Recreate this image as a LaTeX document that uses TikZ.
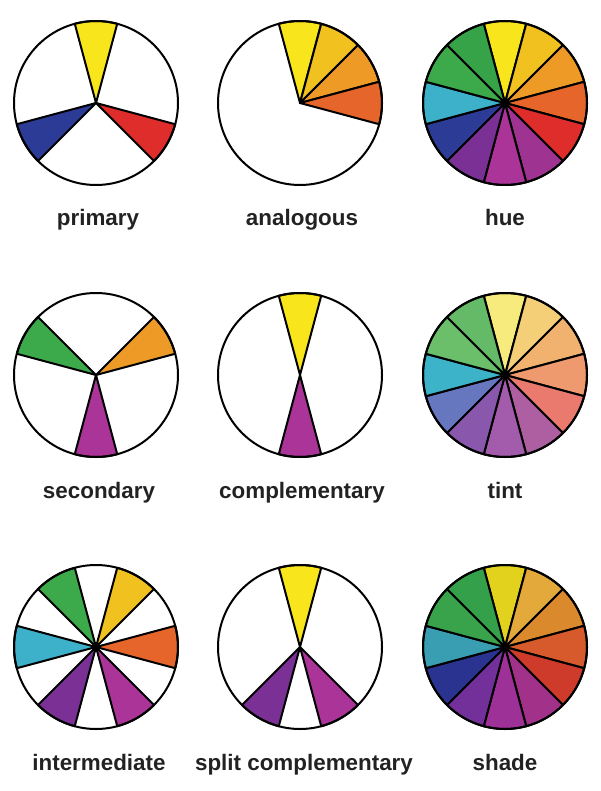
\documentclass[tikz,border=0pt]{standalone}
\usepackage{fontspec}
\setsansfont{Liberation Sans}

% hue
\definecolor{hYellow}{HTML}{F8E51C}
\definecolor{hGold}{HTML}{F1C21F}
\definecolor{hOrange}{HTML}{EE9A27}
\definecolor{hRedOrange}{HTML}{E6652B}
\definecolor{hRed}{HTML}{DE2D2A}
\definecolor{hRedViolet}{HTML}{9F3391}
\definecolor{hViolet}{HTML}{AA3498}
\definecolor{hPurple}{HTML}{7A3095}
\definecolor{hBlue}{HTML}{2C3C96}
\definecolor{hCyan}{HTML}{3DB0CA}
\definecolor{hGreen}{HTML}{3CAA4A}
\definecolor{hGreenTwo}{HTML}{37A349}
% tint
\definecolor{tYellow}{HTML}{F6EB7C}
\definecolor{tGold}{HTML}{F5CF78}
\definecolor{tOrange}{HTML}{F2B26F}
\definecolor{tRedOrange}{HTML}{EE9A6E}
\definecolor{tRed}{HTML}{EA7A6D}
\definecolor{tRedViolet}{HTML}{AE5FA1}
\definecolor{tViolet}{HTML}{A35BAC}
\definecolor{tPurple}{HTML}{8957AC}
\definecolor{tBlue}{HTML}{6677C0}
\definecolor{tCyan}{HTML}{3CB3C9}
\definecolor{tGreen}{HTML}{6BBE6A}
\definecolor{tGreenTwo}{HTML}{64BA66}
% shade
\definecolor{sYellow}{HTML}{E2D21E}
\definecolor{sGold}{HTML}{E3A93A}
\definecolor{sOrange}{HTML}{DA8A2C}
\definecolor{sRedOrange}{HTML}{D65A2B}
\definecolor{sRed}{HTML}{CF3B2B}
\definecolor{sRedViolet}{HTML}{A2318A}
\definecolor{sViolet}{HTML}{9E3197}
\definecolor{sPurple}{HTML}{74309A}
\definecolor{sBlue}{HTML}{2A3390}
\definecolor{sCyan}{HTML}{3A9EB3}
\definecolor{sGreen}{HTML}{38A34A}
\definecolor{sGreenTwo}{HTML}{35A04A}
\definecolor{captiongray}{HTML}{222222}

% wheel: centre, list of angle/colour
\newcommand{\colorwheel}[2]{%
  \foreach \ang/\col in {#2}
    \filldraw[sector,fill=\col] (#1) -- ++(\ang-15:82)
      arc[start angle=\ang-15,end angle=\ang+15,radius=82] -- cycle;
  \draw[rim] (#1) circle[radius=82];
}

\begin{document}
\begin{tikzpicture}[
    x=0.5pt,y=0.5pt,
    font=\sffamily\bfseries\fontsize{11.2}{13}\selectfont,
    line width=1pt,line join=round,
    sector/.style={draw=black},
    rim/.style={draw=black},
    wheelname/.style={anchor=base,text=captiongray,inner sep=0pt}
]
\useasboundingbox (0,0) rectangle (600,-791);

\coordinate (primary) at (96,-103);
\coordinate (analogous) at (300,-103);
\coordinate (hue) at (505,-103);
\coordinate (secondary) at (96,-375);
\coordinate (complementary) at (300,-375);
\coordinate (tint) at (505,-375);
\coordinate (intermediate) at (96,-647);
\coordinate (splitcompl) at (300,-647);
\coordinate (shade) at (505,-647);

\colorwheel{primary}{90/hYellow,-30/hRed,-150/hBlue}
\colorwheel{analogous}{90/hYellow,60/hGold,30/hOrange,0/hRedOrange}
\colorwheel{hue}{90/hYellow,60/hGold,30/hOrange,0/hRedOrange,-30/hRed,
  -60/hRedViolet,-90/hViolet,-120/hPurple,-150/hBlue,180/hCyan,
  150/hGreen,120/hGreenTwo}
\colorwheel{secondary}{30/hOrange,150/hGreen,-90/hViolet}
\colorwheel{complementary}{90/hYellow,-90/hViolet}
\colorwheel{tint}{90/tYellow,60/tGold,30/tOrange,0/tRedOrange,-30/tRed,
  -60/tRedViolet,-90/tViolet,-120/tPurple,-150/tBlue,180/tCyan,
  150/tGreen,120/tGreenTwo}
\colorwheel{intermediate}{60/hGold,0/hRedOrange,-60/hViolet,-120/hPurple,
  180/hCyan,120/hGreen}
\colorwheel{splitcompl}{90/hYellow,-60/hViolet,-120/hPurple}
\colorwheel{shade}{90/sYellow,60/sGold,30/sOrange,0/sRedOrange,-30/sRed,
  -60/sRedViolet,-90/sViolet,-120/sPurple,-150/sBlue,180/sCyan,
  150/sGreen,120/sGreenTwo}

\node[wheelname] (primary-name) at (98,-226) {primary};
\node[wheelname] (analogous-name) at (302,-226) {analogous};
\node[wheelname] (hue-name) at (505,-226) {hue};
\node[wheelname] (secondary-name) at (99,-498) {secondary};
\node[wheelname] (complementary-name) at (302,-498) {complementary};
\node[wheelname] (tint-name) at (505,-498) {tint};
\node[wheelname] (intermediate-name) at (99,-770) {intermediate};
\node[wheelname] (splitcompl-name) at (304,-770) {split complementary};
\node[wheelname] (shade-name) at (505,-770) {shade};

\end{tikzpicture}
\end{document}
